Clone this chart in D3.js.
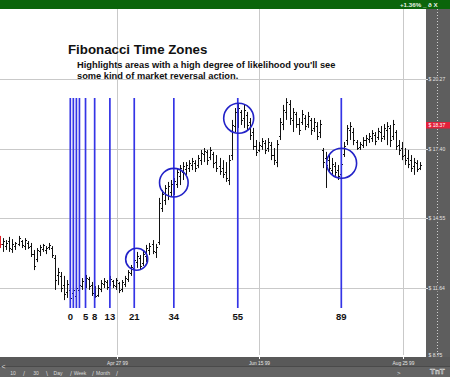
<!DOCTYPE html>
<html><head><meta charset="utf-8">
<script src="https://cdn.jsdelivr.net/npm/d3@7"></script>
<style>html,body{margin:0;padding:0;background:#fff;overflow:hidden}</style>
</head><body>
<svg id="c" width="450" height="377"></svg>
<script>
// ---------- DATA ----------
const firstBar = -23; // bar index of the first bar (0 = start of the time zones)
const highs = [13.79,13.70,13.62,13.75,13.66,13.54,13.79,13.62,13.70,13.58,
13.50,13.21,13.29,13.42,13.46,13.37,13.50,13.37,13.00,12.47,
12.30,12.14,11.97,
11.85,11.64,11.76,11.85,12.05,12.18,12.10,11.89,11.72,11.76,
11.97,12.05,11.97,12.14,11.97,12.05,11.89,11.97,12.14,12.38,
12.59,12.88,13.13,13.00,13.21,13.42,13.50,13.62,13.46,15.36,
15.69,15.89,16.02,16.10,16.18,16.59,16.72,16.84,16.84,16.92,
17.01,16.92,17.13,17.34,17.42,17.34,17.46,17.26,17.13,17.01,
16.92,16.84,17.13,18.58,19.07,19.28,18.99,19.20,18.91,18.66,
18.25,17.75,17.67,17.83,17.75,17.83,17.67,17.42,17.75,18.66,
19.20,19.48,19.40,19.07,18.91,18.66,18.99,18.78,18.91,18.66,
18.66,18.49,18.58,17.42,17.26,17.13,17.01,16.84,16.72,16.92,
17.67,18.37,18.49,18.25,17.75,17.67,17.87,17.96,18.04,18.16,
18.08,18.25,18.33,18.41,18.49,18.37,18.58,18.16,17.75,17.67,
17.42,17.34,17.13,17.01,16.92,16.84];
const lows = [13.29,13.13,13.21,13.13,13.09,13.21,13.37,13.29,13.21,13.25,
12.92,12.38,12.71,12.96,13.13,13.04,13.21,12.88,11.56,11.76,
11.47,11.14,11.23,
11.06,11.31,11.14,11.35,11.56,11.64,11.56,11.31,11.23,11.27,
11.47,11.64,11.56,11.72,11.64,11.56,11.43,11.47,11.68,11.89,
12.14,12.30,12.47,12.38,12.55,12.71,13.00,13.04,12.88,13.42,
14.78,15.07,15.27,15.44,15.48,15.77,15.89,16.10,16.31,16.43,
16.51,16.43,16.59,16.72,16.84,16.72,16.92,16.59,16.43,16.31,
16.18,16.02,15.89,16.92,18.08,18.25,18.37,18.25,18.16,17.75,
17.34,17.09,17.26,17.34,17.17,17.26,16.92,16.72,16.63,17.75,
18.16,18.58,18.37,18.08,18.25,17.96,18.37,18.16,18.25,17.96,
18.08,17.75,17.83,16.59,15.77,16.43,16.31,16.27,16.10,16.18,
17.05,17.54,17.75,17.54,17.34,17.34,17.42,17.50,17.63,17.67,
17.54,17.75,17.67,17.75,17.54,17.46,17.75,17.34,17.13,16.92,
16.72,16.59,16.43,16.31,16.43,16.51];
const opens = [13.62,13.46,13.37,13.58,13.25,13.37,13.46,13.58,13.37,13.50,
13.37,13.04,12.84,13.17,13.25,13.21,13.33,13.29,12.88,12.18,
12.14,11.76,11.47,
11.56,11.43,11.31,11.56,11.72,11.89,12.01,11.76,11.47,11.35,
11.60,11.81,11.89,11.81,11.93,11.72,11.85,11.60,11.81,12.01,
12.26,12.47,12.71,12.88,12.67,12.96,13.21,13.46,13.13,13.54,
14.94,15.27,15.48,15.60,15.77,15.93,16.26,16.43,16.55,16.59,
16.72,16.80,16.72,16.92,17.17,17.26,17.05,17.17,16.84,16.67,
16.59,16.43,16.10,17.13,18.33,18.78,18.91,18.66,18.78,18.49,
18.08,17.50,17.34,17.50,17.63,17.42,17.54,17.13,16.84,17.92,
18.41,18.91,19.24,18.58,18.82,18.41,18.49,18.66,18.41,18.58,
18.25,18.33,18.08,17.34,17.01,16.92,16.51,16.67,16.51,16.35,
17.17,17.75,18.16,18.08,17.67,17.46,17.54,17.75,17.79,17.83,
17.96,17.87,18.08,17.92,18.16,18.25,17.92,18.08,17.54,17.42,
17.13,17.01,16.92,16.67,16.80,16.59];
const closes = [13.46,13.58,13.50,13.29,13.46,13.50,13.70,13.42,13.62,13.33,
13.04,12.55,13.21,13.33,13.42,13.29,13.42,13.00,11.97,12.30,
11.64,11.39,11.81,
11.23,11.56,11.64,11.76,11.93,12.05,11.72,11.43,11.31,11.64,
11.85,11.93,11.68,12.01,11.76,11.97,11.56,11.89,12.05,12.30,
12.51,12.80,12.96,12.55,13.04,13.29,13.37,13.17,13.33,15.15,
15.52,15.77,15.85,15.93,16.06,16.43,16.59,16.67,16.72,16.80,
16.88,16.59,17.01,17.22,17.30,16.92,17.34,16.80,16.59,16.47,
16.35,16.18,16.92,18.37,18.91,19.07,18.58,18.99,18.37,17.96,
17.50,17.26,17.54,17.71,17.34,17.67,17.13,16.92,17.58,18.49,
18.99,19.32,18.66,18.91,18.41,18.16,18.82,18.33,18.74,18.16,
18.49,17.92,18.41,16.84,16.72,16.59,16.76,16.43,16.26,16.76,
17.50,18.25,18.33,17.75,17.42,17.58,17.75,17.83,17.92,18.04,
17.71,18.12,17.83,18.25,18.33,17.75,18.41,17.50,17.34,17.09,
16.92,16.76,16.59,16.84,16.55,16.72];

const fibNumbers = [0,1,2,3,5,8,13,21,34,55,89];
const fibLabels  = [0,5,8,13,21,34,55,89];

const circleBars   = [21.8, 34, 55.3, 89.1];
const circlePrices = [12.83, 15.99, 18.65, 16.79];

const priceTicks  = [20.27, 17.40, 14.55, 11.64, 8.75];
const lastPrice   = 18.37;
const dateLabels  = ["Apr 27 99", "Jun 15 99", "Aug 25 99"];
const dateBars    = [15.3, 62, 109.3];
const tabLabels   = ["10", "30", "Day", "Week", "Month"];

const titleText = "Fibonacci Time Zones";
const subLines  = ["Highlights areas with a high degree of likelihood you'll see",
                   "some kind of market reversal action."];

// ---------- LAYOUT ----------
const W = 450, H = 377;
const plotRight = 426, plotTop = 9, plotBottom = 357;
const font = "'Liberation Sans', Arial, sans-serif";

const x = d3.scaleLinear().domain([0, 89]).range([70.3, 341.3]);
const y = d3.scaleLinear().domain([11.64, 20.27]).range([288, 79]);

const svg = d3.select("#c");
svg.append("rect").attr("width", W).attr("height", H).attr("fill", "#fff");

// grid
const grid = svg.append("g").attr("stroke", "#c9c9c9").attr("stroke-width", 1);
grid.selectAll("line.h").data(priceTicks.slice(0, 4)).join("line")
  .attr("x1", 0).attr("x2", plotRight)
  .attr("y1", d => Math.round(y(d)) + 0.5).attr("y2", d => Math.round(y(d)) + 0.5);
grid.selectAll("line.v").data(dateBars).join("line")
  .attr("y1", plotTop).attr("y2", plotBottom)
  .attr("x1", d => Math.round(x(d)) + 0.5).attr("x2", d => Math.round(x(d)) + 0.5);

// OHLC bars
const bars = highs.map((h, i) => ({i: firstBar + i, h, l: lows[i], o: opens[i], c: closes[i]}));
const bg = svg.append("g").attr("stroke", "#111").attr("stroke-width", 1).attr("fill", "none");
bars.forEach(b => {
  const cx = Math.round(x(b.i)) + 0.5;
  const col = b.i === firstBar ? "#e0202a" : "#111";
  bg.append("line").attr("x1", cx).attr("x2", cx).attr("y1", y(b.h)).attr("y2", y(b.l)).attr("stroke", col);
  bg.append("line").attr("x1", cx - 1.5).attr("x2", cx).attr("y1", Math.round(y(b.o)) + 0.5).attr("y2", Math.round(y(b.o)) + 0.5).attr("stroke", col);
  bg.append("line").attr("x1", cx).attr("x2", cx + 1.5).attr("y1", Math.round(y(b.c)) + 0.5).attr("y2", Math.round(y(b.c)) + 0.5).attr("stroke", col);
});

// Fibonacci time zone lines
svg.append("g").selectAll("line").data(fibNumbers).join("line")
  .attr("x1", d => x(d)).attr("x2", d => x(d))
  .attr("y1", 98).attr("y2", 308)
  .attr("stroke", "#3434e6").attr("stroke-width", 1.7);

svg.append("g").selectAll("text").data(fibLabels).join("text")
  .attr("x", d => x(d)).attr("y", 319.5)
  .attr("text-anchor", "middle")
  .attr("font-family", font).attr("font-weight", "bold").attr("font-size", 9.5)
  .attr("fill", "#111").text(d => d);

// circles
const circleRadius = [11, 14.3, 15, 15];
svg.append("g").selectAll("circle").data(circleBars).join("circle")
  .attr("cx", d => x(d)).attr("cy", (d, i) => y(circlePrices[i]))
  .attr("r", (d, i) => circleRadius[i])
  .attr("fill", "none").attr("stroke", "#2222c8").attr("stroke-width", 1.6);

// title
svg.append("text").attr("x", 68).attr("y", 54)
  .attr("font-family", font).attr("font-weight", "bold").attr("font-size", 13.3)
  .attr("fill", "#111").text(titleText);
svg.append("g").selectAll("text").data(subLines).join("text")
  .attr("x", 77).attr("y", (d, i) => 68 + i * 10.5)
  .attr("font-family", font).attr("font-weight", "bold").attr("font-size", 9.3)
  .attr("fill", "#111").text(d => d);

// top green bar
svg.append("rect").attr("x", 0).attr("y", 0).attr("width", W).attr("height", plotTop).attr("fill", "#0b650b");
svg.append("text").attr("x", 400).attr("y", 6.5)
  .attr("font-family", font).attr("font-weight", "bold").attr("font-size", 6.2)
  .attr("fill", "#e8f2e8").text("+1.36%  _  ð  X");

// right price panel
svg.append("rect").attr("x", plotRight).attr("y", plotTop).attr("width", W - plotRight).attr("height", plotBottom - plotTop).attr("fill", "#5e5e5e");
svg.append("line").attr("x1", 437.5).attr("x2", 437.5).attr("y1", plotTop).attr("y2", plotBottom)
  .attr("stroke", "#cfcfcf").attr("stroke-width", 1).attr("stroke-dasharray", "1,2");
const pt = svg.append("g");
priceTicks.forEach(p => {
  const yy = Math.round(y(p)) + 0.5;
  pt.append("line").attr("x1", plotRight).attr("x2", plotRight + 2).attr("y1", yy).attr("y2", yy).attr("stroke", "#ddd");
  pt.append("rect").attr("x", plotRight + 2).attr("y", yy - 3).attr("width", 17).attr("height", 6).attr("fill", "#5e5e5e");
  pt.append("text").attr("x", plotRight + 2.5).attr("y", Math.min(yy + 1.8, plotBottom - 0.5))
    .attr("font-family", font).attr("font-size", 5).attr("fill", "#e4e4e4").text("$ " + p.toFixed(2));
});
const ly = y(lastPrice);
svg.append("rect").attr("x", plotRight).attr("y", ly - 3).attr("width", W - plotRight).attr("height", 6.5).attr("fill", "#e3213a");
svg.append("text").attr("x", plotRight + 2.5).attr("y", ly + 2)
  .attr("font-family", font).attr("font-size", 5).attr("fill", "#fff").text("$ " + lastPrice.toFixed(2));

// bottom bar
svg.append("rect").attr("x", 0).attr("y", plotBottom).attr("width", W).attr("height", H - plotBottom).attr("fill", "#595959");
svg.append("rect").attr("x", 0).attr("y", 367).attr("width", W).attr("height", 10).attr("fill", "#646464");
svg.append("line").attr("x1", 0).attr("x2", W).attr("y1", 366.5).attr("y2", 366.5).attr("stroke", "#4a4a4a");
const db = svg.append("g");
dateBars.forEach((d, i) => {
  const xx = Math.round(x(d)) + 0.5;
  db.append("line").attr("x1", xx).attr("x2", xx).attr("y1", plotBottom - 2).attr("y2", plotBottom + 2).attr("stroke", "#fff");
  db.append("text").attr("x", xx).attr("y", 365).attr("text-anchor", "middle")
    .attr("font-family", font).attr("font-size", 4.8).attr("fill", "#e6e6e6").text(dateLabels[i]);
});
svg.append("text").attr("x", 1.5).attr("y", 369).attr("font-family", font).attr("font-size", 7).attr("fill", "#ddd").text("<");
const tabX = [13, 36, 58, 80, 103];
tabLabels.forEach((t, i) => {
  svg.append("text").attr("x", tabX[i]).attr("y", 375).attr("text-anchor", "middle")
    .attr("font-family", font).attr("font-size", 5).attr("fill", "#dcdcdc").text(t);
  svg.append("text").attr("x", tabX[i] + (i < 2 ? 11 : i === 2 ? 13 : i === 3 ? 13 : 14)).attr("y", 375.5).attr("text-anchor", "middle")
    .attr("font-family", font).attr("font-size", 7).attr("fill", "#cfcfcf").text(i === 1 ? "\\" : "/");
});
svg.append("text").attr("x", 397).attr("y", 375).attr("font-family", font).attr("font-size", 6).attr("fill", "#ddd").text(">");
svg.append("text").attr("x", 430).attr("y", 374).attr("font-family", font).attr("font-weight", "bold").attr("font-size", 8)
  .attr("fill", "#777").attr("stroke", "#ddd").attr("stroke-width", 0.5).text("TnT");
</script>
</body></html>
